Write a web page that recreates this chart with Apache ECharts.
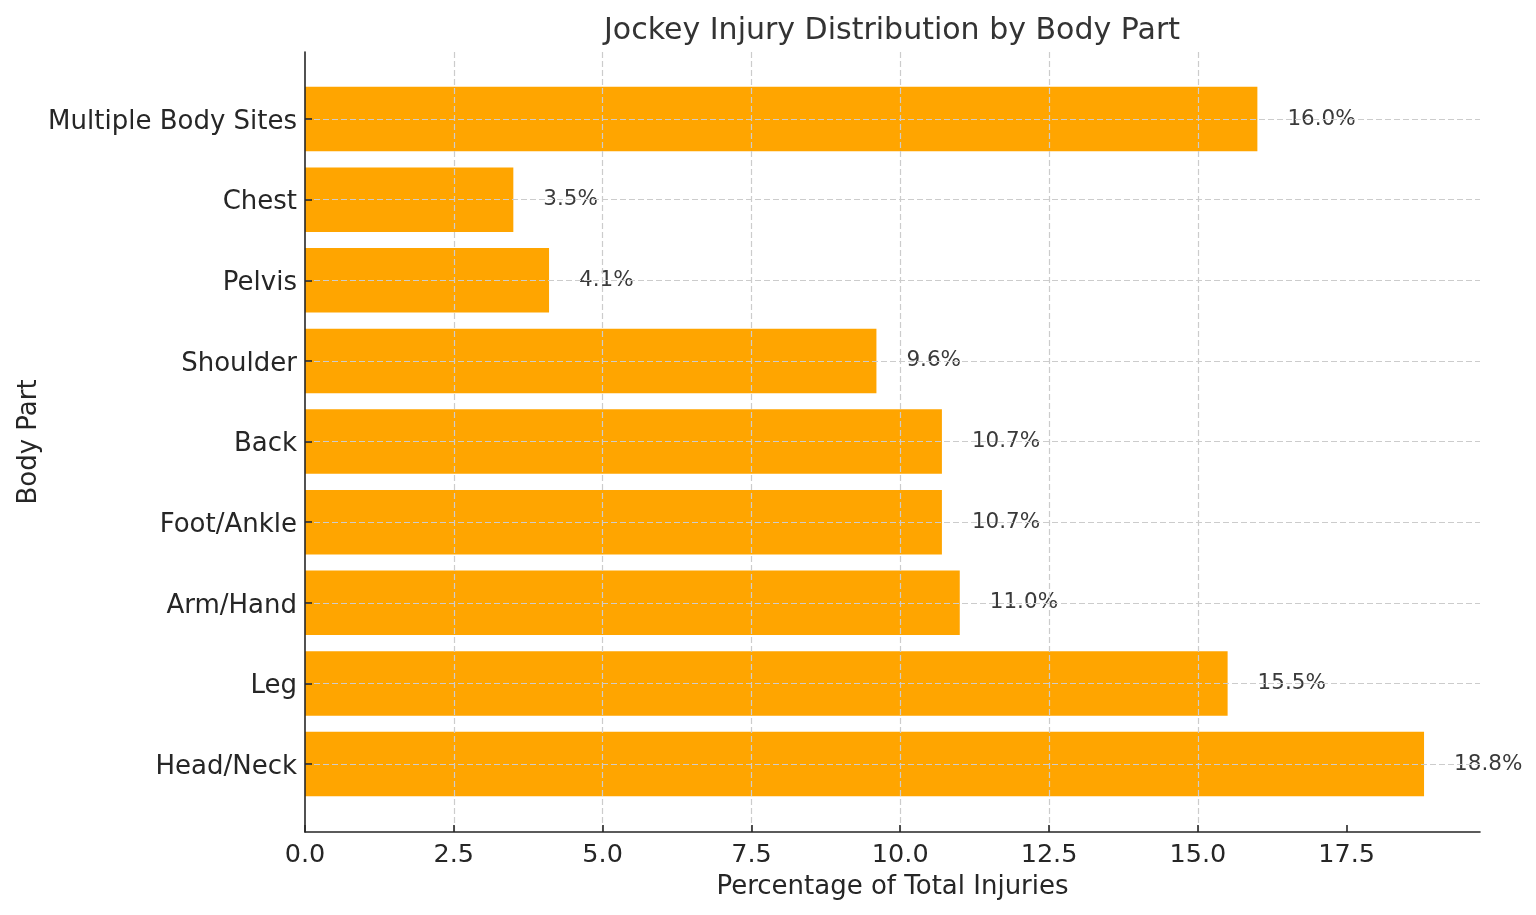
<!DOCTYPE html>
<html>
<head>
<meta charset="utf-8">
<script src="https://cdn.jsdelivr.net/npm/echarts@6/dist/echarts.min.js"></script>
<style>
  html, body { margin: 0; padding: 0; background: #fff; }
  #container { width: 1536px; height: 915px; }
</style>
</head>
<body>
<div id="container"></div>
<script>
// Dados do gráfico (de baixo para cima, como no original)
var categories = ['Head/Neck', 'Leg', 'Arm/Hand', 'Foot/Ankle', 'Back', 'Shoulder', 'Pelvis', 'Chest', 'Multiple Body Sites'];
var percentages = [18.8, 15.5, 11.0, 10.7, 10.7, 9.6, 4.1, 3.5, 16.0];
var xTicks = [0, 2.5, 5, 7.5, 10, 12.5, 15, 17.5];
var xMax = 19.74;

var dom = document.getElementById('container');
var myChart = echarts.init(dom, null, { renderer: 'canvas' });

var textColor = '#262626';
var gridColor = '#cccccc';

var option = {
    animation: false,
    title: {
        text: 'Jockey Injury Distribution by Body Part',
        left: 887,
        textAlign: 'center',
        top: 11,
        textStyle: { fontFamily: 'DejaVu Sans', fontSize: 30, fontWeight: 'normal', color: '#333' }
    },
    grid: [
        // moldura (eixos e grade vertical)
        { left: 305, right: 56, top: 52, bottom: 83, outerBoundsMode: 'none' },
        // barras (centros das categorias)
        { left: 305, right: 56, top: 119, bottom: 151, outerBoundsMode: 'none' }
    ],
    xAxis: [
        {
            type: 'value',
            gridIndex: 0,
            min: 0,
            max: xMax,
            interval: 2.5,
            z: 3,
            name: 'Percentage of Total Injuries',
            nameLocation: 'middle',
            nameGap: 42,
            nameMoveOverlap: false,
            nameTextStyle: { fontFamily: 'DejaVu Sans', fontSize: 26, color: textColor },
            axisLine: { show: true, lineStyle: { color: textColor, width: 1.6 } },
            axisTick: { show: true, inside: true, length: 7, customValues: xTicks, lineStyle: { color: textColor, width: 1.6 } },
            axisLabel: {
                customValues: xTicks,
                margin: 10,
                fontFamily: 'DejaVu Sans',
                fontSize: 25.5,
                color: textColor,
                formatter: function (v) { return v.toFixed(1); }
            },
            splitLine: {
                show: true,
                showMinLine: false,
                showMaxLine: false,
                lineStyle: { color: gridColor, type: [6, 3], width: 1.2 }
            }
        },
        {
            type: 'value',
            gridIndex: 1,
            min: 0,
            max: xMax,
            show: false
        }
    ],
    yAxis: [
        {
            type: 'value',
            gridIndex: 0,
            min: 0,
            max: 1,
            z: 3,
            name: 'Body Part',
            nameLocation: 'middle',
            nameGap: 263,
            nameMoveOverlap: false,
            nameTextStyle: { fontFamily: 'DejaVu Sans', fontSize: 26, color: textColor },
            axisLine: { show: true, lineStyle: { color: textColor, width: 1.6 } },
            axisTick: { show: false },
            axisLabel: { show: false },
            splitLine: { show: false }
        },
        {
            type: 'category',
            gridIndex: 1,
            data: categories,
            boundaryGap: false,
            z: 3,
            axisLine: { show: false },
            axisTick: { show: true, inside: true, length: 7, lineStyle: { color: textColor, width: 1.6 } },
            axisLabel: {
                margin: 8,
                formatter: function (v) { return '{c|' + v + '}'; },
                rich: {
                    c: { padding: [6, 0, 0, 0], fontFamily: 'DejaVu Sans', fontSize: 26, color: textColor }
                }
            },
            splitLine: { show: true, lineStyle: { color: gridColor, type: [6, 3], width: 1.2 } }
        }
    ],
    series: [
        {
            type: 'bar',
            xAxisIndex: 1,
            yAxisIndex: 1,
            data: percentages,
            barWidth: '80%',
            clip: false,
            itemStyle: { color: '#FFA500' },
            label: {
                show: true,
                position: 'right',
                distance: 30,
                fontFamily: 'DejaVu Sans',
                fontSize: 21.5,
                color: '#3a3a3a',
                formatter: function (p) { return p.value.toFixed(1) + '%'; }
            }
        }
    ]
};

myChart.setOption(option);

window.addEventListener('resize', function () {
    myChart.resize();
});
</script>
</body>
</html>
